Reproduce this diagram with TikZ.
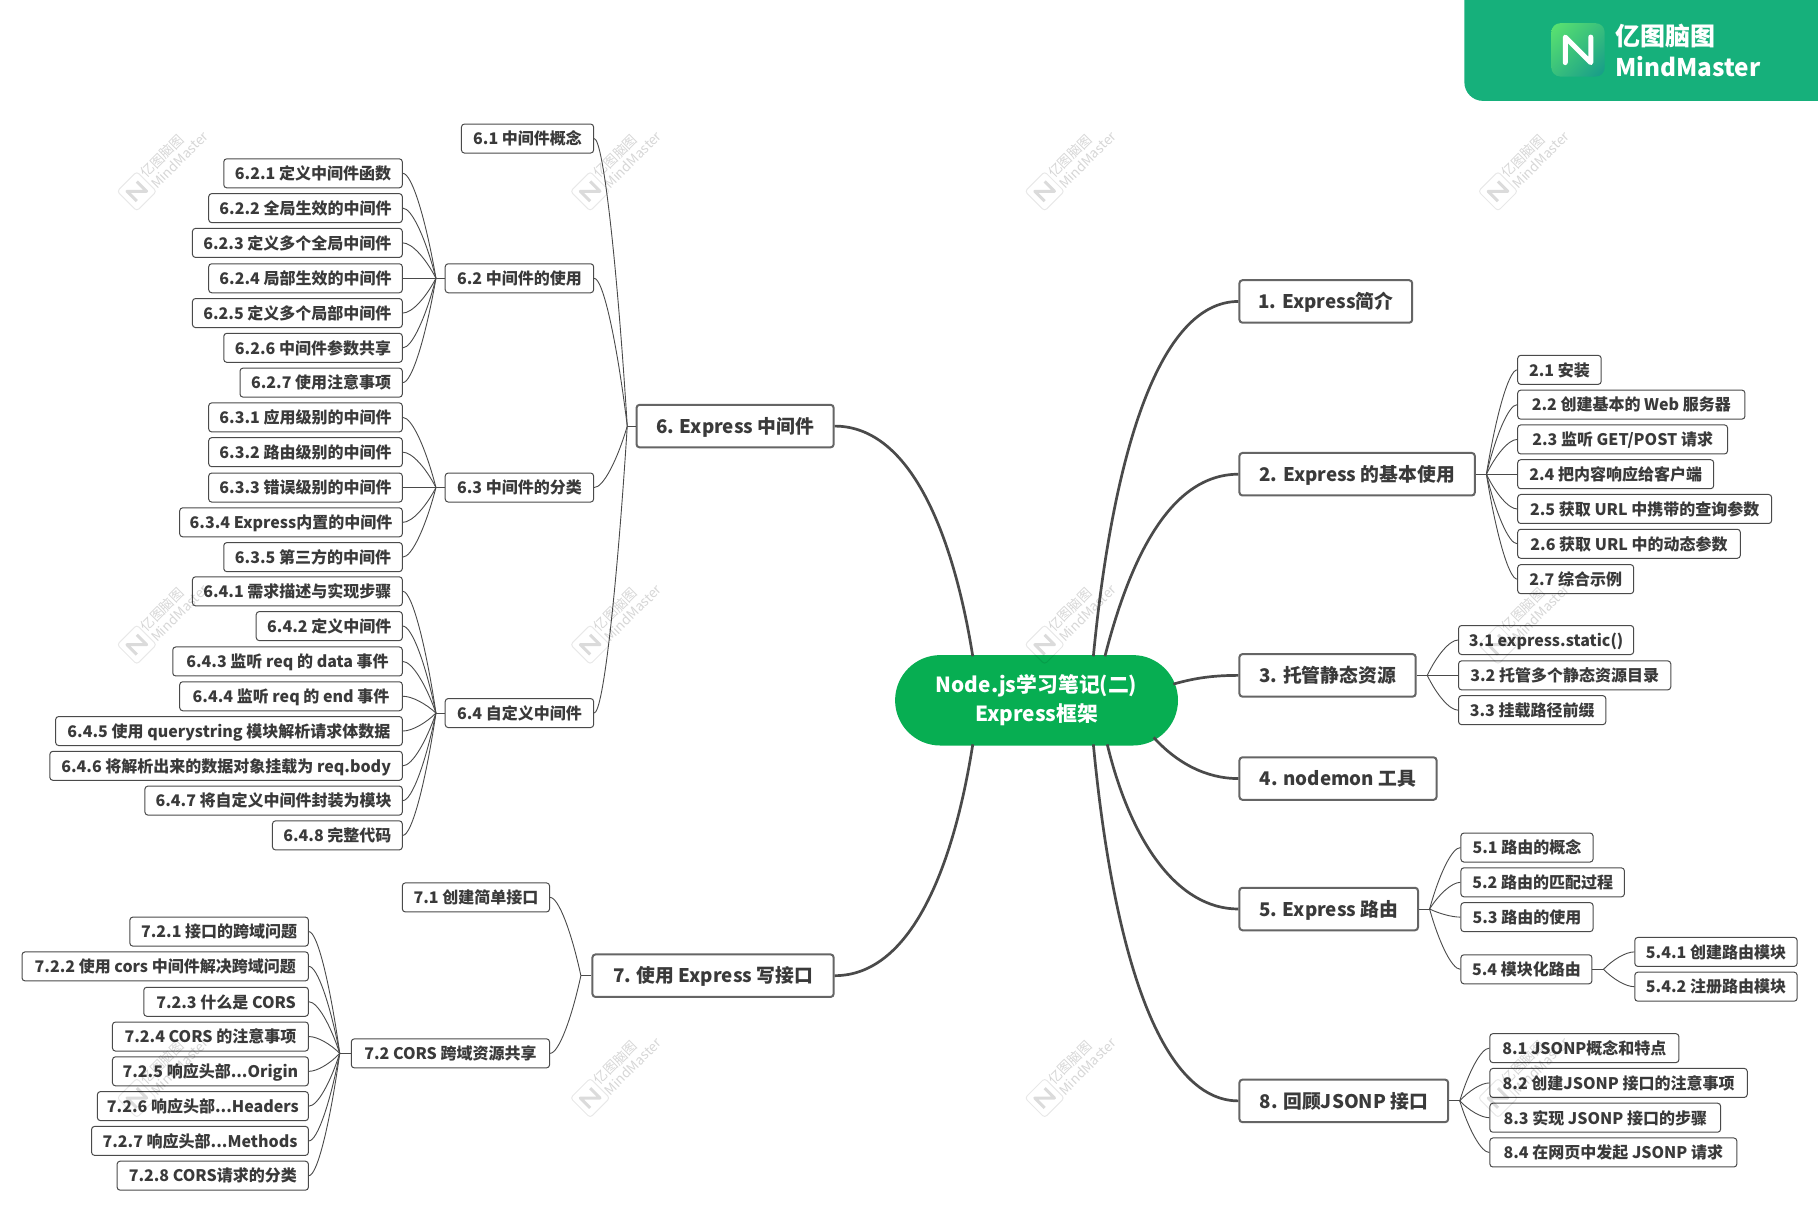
\documentclass[tikz,border=0pt]{standalone}
\usepackage{fontspec}
\setmainfont{Noto Sans CJK SC}
\newcommand\nbold{\bfseries}
\usetikzlibrary{calc,shapes.misc,shadings}
\definecolor{txt}{HTML}{3A3A3A}
\definecolor{edge}{HTML}{4A4A4A}
\definecolor{rootg}{HTML}{07AE52}
\definecolor{bann}{HTML}{16B07B}
\definecolor{lgA}{HTML}{5CE46F}
\definecolor{lgB}{HTML}{149A8A}
\tikzset{
  leafbox/.style={draw=edge,line width=1pt,fill=white,rounded corners=3pt,inner sep=0pt,text=txt,font=\fontsize{16}{18}\selectfont\nbold,minimum height=29pt,text height=13pt,text depth=.4pt},
  mainbox/.style={draw=edge!85,line width=2pt,fill=white,rounded corners=3pt,inner sep=0pt,text=txt,font=\fontsize{18.8}{22}\selectfont\nbold,minimum height=42.5pt,text height=15pt,text depth=.4pt},
  thinline/.style={draw=edge,line width=.9pt},
  thickline/.style={draw=edge,line width=2.7pt},
  wmk/.style={text=black,text opacity=.16,font=\fontsize{13.5}{15}\selectfont,rotate=45,align=left,inner sep=0pt}
}
% #1 name, #2 left, #3 right, #4 centre y, #5 text, #6 style
\newcommand\bx[6]{\node[#6,minimum width={(#3-#2)*1.15944pt}] (#1) at ({(#2+#3)/2},#4) {#5};}
\newcommand\kidE[2]{\draw[thinline] let \p1=(#1),\p2=(#2.east) in (\p1) .. controls ({\x1+0.3*(\x2-\x1)},{\y1+0.55*(\y2-\y1)}) and ({\x1+0.72*(\x2-\x1)},\y2) .. (\p2);}
\newcommand\kidW[2]{\draw[thinline] let \p1=(#1),\p2=(#2.west) in (\p1) .. controls ({\x1+0.3*(\x2-\x1)},{\y1+0.55*(\y2-\y1)}) and ({\x1+0.72*(\x2-\x1)},\y2) .. (\p2);}
\begin{document}
\begin{tikzpicture}[x=1.15944pt,y=-1.15944pt]
\useasboundingbox (0,0) rectangle (1568,1043.6);
\fill[white] (0,0) rectangle (1568,1043.6);

% banner
\fill[bann] (1568,0) -- (1263,0) -- (1263,71) arc[start angle=180,end angle=90,radius=16] -- (1568,87) -- cycle;
\shade[upper left=lgA,lower right=lgB,upper right=lgA!50!lgB,lower left=lgA!50!lgB,rounded corners=9pt] (1338,20) rectangle (1384,66);
\draw[white,line width=5pt,line join=round,line cap=round] (1350,54) -- (1350,32) -- (1372,54) -- (1372,32);
\node[anchor=west,text=white,inner sep=0pt,font=\fontsize{25}{28}\selectfont\nbold] (lg1) at (1393,31) {亿图脑图};
\node[anchor=west,text=white,inner sep=0pt,font=\fontsize{24.3}{28}\selectfont\nbold] (lg2) at (1393,57) {MindMaster};

% junctions
\foreach \n/\x/\y in {j6/541/367.5,j7/501/841.5,j62/376/240,j63/376/420.5,j64/376/615,j72/293/908.5,
  j2/1282/409,j3/1231/582.5,j5/1233/784,j54/1383/836,j8/1259/949.5}{\coordinate (\n) at (\x,\y);}
% attachment points on the root outline
\foreach \n/\x/\y in {r1/943/566,r2/953/566,r3/1012/590,r4/995/636,r5/955/642,r8/943/642,r6/839/566,r7/839/642}{\coordinate (\n) at (\x,\y);}

% level 1
\bx{n1}{1069}{1218}{260}{1. Express简介}{mainbox}
\bx{n2}{1069}{1272}{409}{2. Express 的基本使用}{mainbox}
\bx{n3}{1069}{1221}{582.5}{3. 托管静态资源}{mainbox}
\bx{n4}{1069}{1239}{671.5}{4. nodemon 工具}{mainbox}
\bx{n5}{1069}{1223}{784}{5. Express 路由}{mainbox}
\bx{n8}{1069}{1249}{949.5}{8. 回顾JSONP 接口}{mainbox}
\bx{n6}{549}{719}{367.5}{6. Express 中间件}{mainbox}
\bx{n7}{511}{719}{841.5}{7. 使用 Express 写接口}{mainbox}

\node[rounded rectangle,fill=rootg,minimum width={244*1.15944pt},minimum height={78*1.15944pt},inner sep=0pt,align=center,text=white,font=\fontsize{20.8}{28.5}\selectfont\nbold] (root) at (894,604) {Node.js学习笔记(二)\\Express框架};

% root connectors
\draw[thickline] (r1) .. controls (960,390) and (1000,260) .. (n1.west);
\draw[thickline] (r2) .. controls (975,480) and (1010,409) .. (n2.west);
\draw[thickline] (r3) .. controls (1030,585) and (1045,582.5) .. (n3.west);
\draw[thickline] (r4) .. controls (1015,658) and (1040,671.5) .. (n4.west);
\draw[thickline] (r5) .. controls (975,725) and (1015,784) .. (n5.west);
\draw[thickline] (r8) .. controls (960,820) and (1000,949.5) .. (n8.west);
\draw[thickline] (r6) .. controls (822,460) and (785,367.5) .. (n6.east);
\draw[thickline] (r7) .. controls (822,750) and (785,841.5) .. (n7.east);

% right children
\bx{n21}{1309}{1381}{319}{2.1 安装}{leafbox}
\bx{n22}{1309}{1505}{349}{2.2 创建基本的 Web 服务器}{leafbox}
\bx{n23}{1309}{1490}{379}{2.3 监听 GET/POST 请求}{leafbox}
\bx{n24}{1309}{1478}{409}{2.4 把内容响应给客户端}{leafbox}
\bx{n25}{1309}{1528}{439}{2.5 获取 URL 中携带的查询参数}{leafbox}
\bx{n26}{1309}{1501}{469}{2.6 获取 URL 中的动态参数}{leafbox}
\bx{n27}{1309}{1409}{499.5}{2.7 综合示例}{leafbox}
\bx{n31}{1258}{1409}{552}{3.1 express.static()}{leafbox}
\bx{n32}{1258}{1441}{582.5}{3.2 托管多个静态资源目录}{leafbox}
\bx{n33}{1258}{1385}{612.5}{3.3 挂载路径前缀}{leafbox}
\bx{n51}{1260}{1374}{731}{5.1 路由的概念}{leafbox}
\bx{n52}{1260}{1401}{761}{5.2 路由的匹配过程}{leafbox}
\bx{n53}{1260}{1374}{791}{5.3 路由的使用}{leafbox}
\bx{n54}{1260}{1373}{836}{5.4 模块化路由}{leafbox}
\bx{n541}{1410}{1550}{821}{5.4.1 创建路由模块}{leafbox}
\bx{n542}{1410}{1550}{851}{5.4.2 注册路由模块}{leafbox}
\bx{n81}{1285}{1448}{904}{8.1 JSONP概念和特点}{leafbox}
\bx{n82}{1285}{1507}{934}{8.2 创建JSONP 接口的注意事项}{leafbox}
\bx{n83}{1285}{1484}{964}{8.3 实现 JSONP 接口的步骤}{leafbox}
\bx{n84}{1285}{1498}{994}{8.4 在网页中发起 JSONP 请求}{leafbox}

% left children
\bx{n61}{398}{512}{119.5}{6.1 中间件概念}{leafbox}
\bx{n62}{384}{512}{240}{6.2 中间件的使用}{leafbox}
\bx{n63}{384}{512}{420.5}{6.3 中间件的分类}{leafbox}
\bx{n64}{384}{512}{615}{6.4 自定义中间件}{leafbox}
\bx{n621}{193}{347}{149.5}{6.2.1 定义中间件函数}{leafbox}
\bx{n622}{180}{347}{179.5}{6.2.2 全局生效的中间件}{leafbox}
\bx{n623}{166}{347}{209.5}{6.2.3 定义多个全局中间件}{leafbox}
\bx{n624}{180}{347}{240}{6.2.4 局部生效的中间件}{leafbox}
\bx{n625}{166}{347}{270}{6.2.5 定义多个局部中间件}{leafbox}
\bx{n626}{193}{347}{300}{6.2.6 中间件参数共享}{leafbox}
\bx{n627}{207}{347}{330}{6.2.7 使用注意事项}{leafbox}
\bx{n631}{180}{347}{360}{6.3.1 应用级别的中间件}{leafbox}
\bx{n632}{180}{347}{390}{6.3.2 路由级别的中间件}{leafbox}
\bx{n633}{180}{347}{420.5}{6.3.3 错误级别的中间件}{leafbox}
\bx{n634}{155}{347}{450.5}{6.3.4 Express内置的中间件}{leafbox}
\bx{n635}{193}{347}{480.5}{6.3.5 第三方的中间件}{leafbox}
\bx{n641}{166}{347}{510}{6.4.1 需求描述与实现步骤}{leafbox}
\bx{n642}{221}{347}{540}{6.4.2 定义中间件}{leafbox}
\bx{n643}{149}{347}{570.5}{6.4.3 监听 req 的 data 事件}{leafbox}
\bx{n644}{155}{347}{600.5}{6.4.4 监听 req 的 end 事件}{leafbox}
\bx{n645}{48}{347}{630.5}{6.4.5 使用 querystring 模块解析请求体数据}{leafbox}
\bx{n646}{43}{347}{660.5}{6.4.6 将解析出来的数据对象挂载为 req.body}{leafbox}
\bx{n647}{125}{347}{690.5}{6.4.7 将自定义中间件封装为模块}{leafbox}
\bx{n648}{235}{347}{720.5}{6.4.8 完整代码}{leafbox}
\bx{n71}{347}{474}{774}{7.1 创建简单接口}{leafbox}
\bx{n72}{303}{474}{908.5}{7.2 CORS 跨域资源共享}{leafbox}
\bx{n721}{112}{266}{803.5}{7.2.1 接口的跨域问题}{leafbox}
\bx{n722}{19}{266}{833.5}{7.2.2 使用 cors 中间件解决跨域问题}{leafbox}
\bx{n723}{124}{266}{864}{7.2.3 什么是 CORS}{leafbox}
\bx{n724}{97}{266}{894}{7.2.4 CORS 的注意事项}{leafbox}
\bx{n725}{97}{266}{924}{7.2.5 响应头部...Origin}{leafbox}
\bx{n726}{84}{266}{954}{7.2.6 响应头部...Headers}{leafbox}
\bx{n727}{79}{266}{984}{7.2.7 响应头部...Methods}{leafbox}
\bx{n728}{101}{266}{1014}{7.2.8 CORS请求的分类}{leafbox}

% stems from parent to junction
\foreach \a/\b in {n2.east/j2,n3.east/j3,n5.east/j5,n54.east/j54,n8.east/j8,n6.west/j6,n7.west/j7,n62.west/j62,n63.west/j63,n64.west/j64,n72.west/j72}{\draw[thinline] (\a) -- (\b);}

% children on the right side
\foreach \j/\k in {j2/n21,j2/n22,j2/n23,j2/n24,j2/n25,j2/n26,j2/n27,j3/n31,j3/n32,j3/n33,j5/n51,j5/n52,j5/n53,j5/n54,j54/n541,j54/n542,j8/n81,j8/n82,j8/n83,j8/n84}{\kidW{\j}{\k}}
% children on the left side
\foreach \j/\k in {j6/n61,j6/n62,j6/n63,j6/n64,j7/n71,j7/n72,
 j62/n621,j62/n622,j62/n623,j62/n624,j62/n625,j62/n626,j62/n627,
 j63/n631,j63/n632,j63/n633,j63/n634,j63/n635,
 j64/n641,j64/n642,j64/n643,j64/n644,j64/n645,j64/n646,j64/n647,j64/n648,
 j72/n721,j72/n722,j72/n723,j72/n724,j72/n725,j72/n726,j72/n727,j72/n728}{\kidE{\j}{\k}}

% watermarks, over everything
\foreach \wx/\wy in {118/165,509/165,901/165,1292/165,118/556,509/556,901/556,1292/556,118/947,509/947,901/947,1292/947}{
  \begin{scope}[shift={(\wx,\wy)}]
    \begin{scope}[rotate=45]
      \draw[black,opacity=.09,line width=1pt,rounded corners=3pt] (-12,-12) rectangle (12,12);
      \draw[black,opacity=.14,line width=3pt,line join=round] (-6,6) -- (-6,-6) -- (6,6) -- (6,-6);
    \end{scope}
    \node[wmk] at (32,-32) {亿图脑图\\MindMaster};
  \end{scope}
}
\end{tikzpicture}
\end{document}
